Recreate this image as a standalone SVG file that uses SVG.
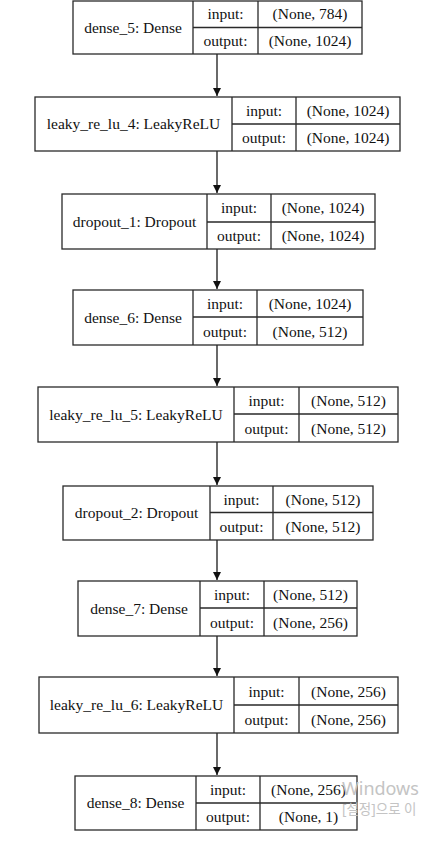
<svg xmlns="http://www.w3.org/2000/svg" width="434" height="841" viewBox="0 0 434 841">
<style>
.b{fill:#fff;stroke:#2a2a2a;stroke-width:1.3}
.l{stroke:#2a2a2a;stroke-width:1.3;fill:none}
.t text{font-family:"Liberation Serif","DejaVu Serif",serif;font-size:15.5px;fill:#111;text-anchor:middle}
.c{stroke:#1a1a1a;stroke-width:1.3;fill:none}
.w{font-family:"Noto Sans","Noto Sans CJK KR",sans-serif;fill:#c4c4c4;text-anchor:start}
</style>
<defs>
<marker id="ah" viewBox="0 0 10 10" refX="10" refY="5" markerWidth="8" markerHeight="8" markerUnits="userSpaceOnUse" orient="auto">
<path d="M0,0 L10,5 L0,10 z" fill="#111"/>
</marker>
</defs>
<rect width="434" height="841" fill="#fff"/>
<g id="connectors">
<line class="c" x1="217" y1="54" x2="217" y2="96" marker-end="url(#ah)"/>
<line class="c" x1="217" y1="151" x2="217" y2="193" marker-end="url(#ah)"/>
<line class="c" x1="217" y1="249" x2="217" y2="289" marker-end="url(#ah)"/>
<line class="c" x1="217" y1="345" x2="217" y2="386" marker-end="url(#ah)"/>
<line class="c" x1="217" y1="442" x2="217" y2="485" marker-end="url(#ah)"/>
<line class="c" x1="217" y1="540" x2="217" y2="580" marker-end="url(#ah)"/>
<line class="c" x1="217" y1="636" x2="217" y2="676" marker-end="url(#ah)"/>
<line class="c" x1="217" y1="733" x2="217" y2="775" marker-end="url(#ah)"/>
</g>
<g class="t" font-family="Liberation Serif, DejaVu Serif, serif">
<g id="dense_5">
<rect class="b" x="73" y="1" width="289" height="53"/>
<path class="l" d="M193,1V54M258,1V54M193,27.5H362"/>
<text x="133" y="32.5">dense_5: Dense</text>
<text x="225.5" y="19">input:</text><text x="225.5" y="46">output:</text>
<text x="310" y="19">(None, 784)</text><text x="310" y="46">(None, 1024)</text>
</g>
<g id="leaky_re_lu_4">
<rect class="b" x="35" y="97" width="365" height="54"/>
<path class="l" d="M232,97V151M296,97V151M232,124H400"/>
<text x="133.5" y="129">leaky_re_lu_4: LeakyReLU</text>
<text x="264" y="116">input:</text><text x="264" y="143">output:</text>
<text x="348" y="116">(None, 1024)</text><text x="348" y="143">(None, 1024)</text>
</g>
<g id="dropout_1">
<rect class="b" x="62" y="194" width="313" height="55"/>
<path class="l" d="M207,194V249M271,194V249M207,222H375"/>
<text x="134.5" y="226.5">dropout_1: Dropout</text>
<text x="239" y="213">input:</text><text x="239" y="241">output:</text>
<text x="323" y="213">(None, 1024)</text><text x="323" y="241">(None, 1024)</text>
</g>
<g id="dense_6">
<rect class="b" x="73" y="290" width="290" height="55"/>
<path class="l" d="M193,290V345M257,290V345M193,317H363"/>
<text x="133" y="322.5">dense_6: Dense</text>
<text x="225" y="309">input:</text><text x="225" y="337">output:</text>
<text x="310" y="309">(None, 1024)</text><text x="310" y="337">(None, 512)</text>
</g>
<g id="leaky_re_lu_5">
<rect class="b" x="38" y="387" width="360" height="55"/>
<path class="l" d="M234,387V442M299,387V442M234,414H398"/>
<text x="136" y="419.5">leaky_re_lu_5: LeakyReLU</text>
<text x="266.5" y="406">input:</text><text x="266.5" y="434">output:</text>
<text x="348.5" y="406">(None, 512)</text><text x="348.5" y="434">(None, 512)</text>
</g>
<g id="dropout_2">
<rect class="b" x="63" y="486" width="310" height="54"/>
<path class="l" d="M210,486V540M273,486V540M210,512.5H373"/>
<text x="136.5" y="518">dropout_2: Dropout</text>
<text x="241.5" y="504.5">input:</text><text x="241.5" y="531.5">output:</text>
<text x="323" y="504.5">(None, 512)</text><text x="323" y="531.5">(None, 512)</text>
</g>
<g id="dense_7">
<rect class="b" x="78" y="581" width="279" height="55"/>
<path class="l" d="M200,581V636M264,581V636M200,608H357"/>
<text x="139" y="613.5">dense_7: Dense</text>
<text x="232" y="600">input:</text><text x="232" y="628">output:</text>
<text x="310.5" y="600">(None, 512)</text><text x="310.5" y="628">(None, 256)</text>
</g>
<g id="leaky_re_lu_6">
<rect class="b" x="39" y="677" width="359" height="56"/>
<path class="l" d="M234,677V733M299,677V733M234,705H398"/>
<text x="136.5" y="710">leaky_re_lu_6: LeakyReLU</text>
<text x="266.5" y="696.5">input:</text><text x="266.5" y="724.5">output:</text>
<text x="348.5" y="696.5">(None, 256)</text><text x="348.5" y="724.5">(None, 256)</text>
</g>
<g id="dense_8">
<rect class="b" x="75" y="776" width="282" height="54"/>
<path class="l" d="M196,776V830M260,776V830M196,803H357"/>
<text x="135.5" y="808">dense_8: Dense</text>
<text x="228" y="794.5">input:</text><text x="228" y="821.5">output:</text>
<text x="308.5" y="794.5">(None, 256)</text><text x="308.5" y="821.5">(None, 1)</text>
</g>
</g>
<g id="watermark">
<text class="w" x="342" y="795" style="font-size:18px">Windows</text>
<text class="w" x="342" y="814" style="font-size:13.5px">[설정]으로 이</text>
</g>
</svg>
